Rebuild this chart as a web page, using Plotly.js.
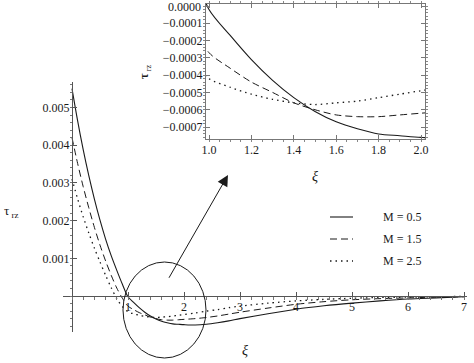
<!DOCTYPE html>
<html>
<head>
<meta charset="utf-8">
<script src="https://cdn.plot.ly/plotly-3.0.1.min.js"></script>
<style>html,body{margin:0;padding:0;background:#fff;}#chart{width:474px;height:363px;}</style>
</head>
<body>
<div id="chart"></div>
<script>
// Data
const xi = [0,0.1,0.2,0.3,0.4,0.5,0.6,0.7,0.8,0.9,1.0,1.1,1.2,1.3,1.4,1.5,1.6,1.7,1.8,1.9,2.0,2.2,2.4,2.6,2.8,3.0,3.5,4.0,4.5,5.0,5.5,6.0,6.5,7.0];
const tauM05 = [0.0055,0.00465,0.00388,0.00319,0.00257,0.00201,0.00151,0.00107,0.00068,0.00031,-0.00002,-0.00017,-0.00031,-0.00043,-0.00053,-0.00061,-0.00067,-0.00071,-0.00074,-0.00075,-0.00076,-0.00077,-0.00075,-0.00071,-0.00066,-0.00060,-0.00047,-0.00035,-0.00026,-0.00019,-0.00013,-0.00008,-0.00005,-0.00002];
const tauM15 = [0.0042,0.00352,0.00290,0.00234,0.00182,0.00135,0.00093,0.00055,0.00021,-0.00006,-0.00027,-0.00036,-0.00044,-0.00050,-0.00056,-0.00060,-0.00063,-0.00064,-0.00064,-0.00063,-0.00062,-0.00060,-0.00057,-0.00053,-0.00048,-0.00043,-0.00032,-0.00022,-0.00015,-0.00010,-0.00007,-0.00005,-0.00003,-0.00002];
const tauM25 = [0.0031,0.00258,0.0021,0.00167,0.00127,0.0009,0.00055,0.00022,-0.00007,-0.00028,-0.00042,-0.00047,-0.00051,-0.00054,-0.00056,-0.00057,-0.00056,-0.00055,-0.00053,-0.00051,-0.00049,-0.00045,-0.00040,-0.00036,-0.00031,-0.00027,-0.00019,-0.00013,-0.00009,-0.00006,-0.00004,-0.00003,-0.00002,-0.00001];
const seriesNames = ['M = 0.5','M = 1.5','M = 2.5'];
const mainYTicks = [0.001,0.002,0.003,0.004,0.005];
const mainXTicks = [1,2,3,4,5,6,7];
const insetXTicks = [1.0,1.2,1.4,1.6,1.8,2.0];
const insetYTicks = [0,-0.0001,-0.0002,-0.0003,-0.0004,-0.0005,-0.0006,-0.0007];
const insetYTickText = ['0.0000','\u22120.0001','\u22120.0002','\u22120.0003','\u22120.0004','\u22120.0005','\u22120.0006','\u22120.0007'];

const W = 474, H = 363;
const px = v => v / W;
const py = v => 1 - v / H;
const FONT = 'Liberation Serif, Times New Roman, serif';
const INK = '#1a1a1a';

const styles = [
  {color: INK, width: 1.1, dash: 'solid'},
  {color: INK, width: 1, dash: '7px,4px'},
  {color: INK, width: 1.3, dash: '1.5px,4px'}
];
const series = [tauM05, tauM15, tauM25];

const traces = [];
series.forEach((s, i) => {
  traces.push({x: xi, y: s, type: 'scatter', mode: 'lines', name: seriesNames[i],
    line: Object.assign({shape: 'spline', smoothing: 0.8}, styles[i]), xaxis: 'x', yaxis: 'y', showlegend: false, hoverinfo: 'skip'});
});
series.forEach((s, i) => {
  traces.push({x: xi, y: s, type: 'scatter', mode: 'lines', name: seriesNames[i] + ' (inset)',
    line: Object.assign({shape: 'spline', smoothing: 0.8}, styles[i]), xaxis: 'x2', yaxis: 'y2', showlegend: false, hoverinfo: 'skip'});
});

// main axes geometry (pixels)
const mx0 = 63, mx1 = 467, xOriginPx = 72, xPerUnit = 56;
const my0 = 82, my1 = 332, yOriginPx = 296, yPerUnit = 37700;

const layout = {
  width: W, height: H,
  margin: {l: 0, r: 0, t: 0, b: 0, pad: 0},
  paper_bgcolor: '#fff', plot_bgcolor: 'rgba(0,0,0,0)',
  font: {family: FONT, size: 12, color: INK},
  showlegend: false,
  xaxis: {
    domain: [px(mx0), px(mx1)],
    range: [(mx0 - xOriginPx) / xPerUnit, (mx1 - xOriginPx) / xPerUnit],
    anchor: 'free', position: py(yOriginPx),
    showline: true, linecolor: '#555', linewidth: 1,
    showgrid: false, zeroline: false,
    tickmode: 'array', tickvals: mainXTicks, ticks: 'inside', ticklen: 4, tickcolor: '#555',
    minor: {tickmode: 'linear', tick0: 0, dtick: 0.2, ticklen: 2.5, tickcolor: '#777', showgrid: false},
    tickfont: {family: FONT, size: 12, color: INK}
  },
  yaxis: {
    domain: [py(my1), py(my0)],
    range: [-(my1 - yOriginPx) / yPerUnit, (yOriginPx - my0) / yPerUnit],
    anchor: 'free', position: px(xOriginPx),
    showline: true, linecolor: '#555', linewidth: 1,
    showgrid: false, zeroline: false,
    tickmode: 'array', tickvals: mainYTicks, tickformat: '.3f', ticks: 'inside', ticklen: 4, tickcolor: '#555',
    minor: {tickmode: 'linear', tick0: 0, dtick: 0.0002, ticklen: 2.5, tickcolor: '#777', showgrid: false},
    tickfont: {family: FONT, size: 12, color: INK}
  },
  xaxis2: {
    domain: [px(206), px(425)],
    range: [1 - 3/212, 2 + 4/212],
    anchor: 'y2',
    showline: true, mirror: 'allticks', linecolor: '#777', linewidth: 1,
    showgrid: false, zeroline: false,
    tickmode: 'array', tickvals: insetXTicks, tickformat: '.1f', ticks: 'inside', ticklen: 4, tickcolor: '#777',
    minor: {tickmode: 'linear', tick0: 0, dtick: 0.05, ticklen: 2, tickcolor: '#888', showgrid: false},
    tickfont: {family: FONT, size: 12, color: INK}
  },
  yaxis2: {
    domain: [py(139), py(4)],
    range: [-(139 - 6) / 172900, (6 - 4) / 172900],
    anchor: 'x2',
    showline: true, mirror: 'allticks', linecolor: '#777', linewidth: 1,
    showgrid: false, zeroline: false,
    tickmode: 'array', tickvals: insetYTicks, ticktext: insetYTickText, ticks: 'inside', ticklen: 4, tickcolor: '#777',
    minor: {tickmode: 'linear', tick0: 0, dtick: 0.00002, ticklen: 2, tickcolor: '#888', showgrid: false},
    tickfont: {family: FONT, size: 12, color: INK}
  },
  shapes: [
    {type: 'circle', xref: 'paper', yref: 'paper', x0: px(123), x1: px(206), y0: py(358), y1: py(262),
      line: {color: INK, width: 1}},
    {type: 'line', xref: 'paper', yref: 'paper', x0: px(330), x1: px(353), y0: py(217), y1: py(217), line: {color: INK, width: 1.1}},
    {type: 'line', xref: 'paper', yref: 'paper', x0: px(330), x1: px(353), y0: py(239), y1: py(239), line: {color: INK, width: 1, dash: '7px,4px'}},
    {type: 'line', xref: 'paper', yref: 'paper', x0: px(330), x1: px(353), y0: py(261), y1: py(261), line: {color: INK, width: 1.3, dash: '1.5px,4px'}}
  ],
  annotations: [
    {xref: 'paper', yref: 'paper', x: px(228), y: py(175), ax: -62, ay: 108, text: ' ', showarrow: true,
      arrowhead: 2, arrowsize: 2.2, arrowwidth: 1, arrowcolor: INK},
    {xref: 'paper', yref: 'paper', x: px(203), y: py(7), xanchor: 'right', yanchor: 'middle', showarrow: false,
      text: insetYTickText[0], font: {family: FONT, size: 12, color: INK}},
    {xref: 'paper', yref: 'paper', x: px(2), y: py(211), xanchor: 'left', yanchor: 'middle', showarrow: false,
      text: 'τ<sub> rz</sub>', font: {family: FONT, size: 13, color: INK}},
    {xref: 'paper', yref: 'paper', x: px(145), y: py(72), xanchor: 'center', yanchor: 'middle', showarrow: false, textangle: -90,
      text: '<b>τ</b><sub> rz</sub>', font: {family: FONT, size: 12, color: INK}},
    {xref: 'paper', yref: 'paper', x: px(245), y: py(350), xanchor: 'center', yanchor: 'middle', showarrow: false,
      text: '<i>ξ</i>', font: {family: FONT, size: 14, color: INK}},
    {xref: 'paper', yref: 'paper', x: px(315), y: py(177), xanchor: 'center', yanchor: 'middle', showarrow: false,
      text: '<i>ξ</i>', font: {family: FONT, size: 14, color: INK}},
    {xref: 'paper', yref: 'paper', x: px(381), y: py(217), xanchor: 'left', yanchor: 'middle', showarrow: false,
      text: seriesNames[0], font: {family: FONT, size: 12, color: INK}},
    {xref: 'paper', yref: 'paper', x: px(381), y: py(239), xanchor: 'left', yanchor: 'middle', showarrow: false,
      text: seriesNames[1], font: {family: FONT, size: 12, color: INK}},
    {xref: 'paper', yref: 'paper', x: px(381), y: py(261), xanchor: 'left', yanchor: 'middle', showarrow: false,
      text: seriesNames[2], font: {family: FONT, size: 12, color: INK}}
  ]
};

Plotly.newPlot('chart', traces, layout, {staticPlot: true, displayModeBar: false});
</script>
</body>
</html>
